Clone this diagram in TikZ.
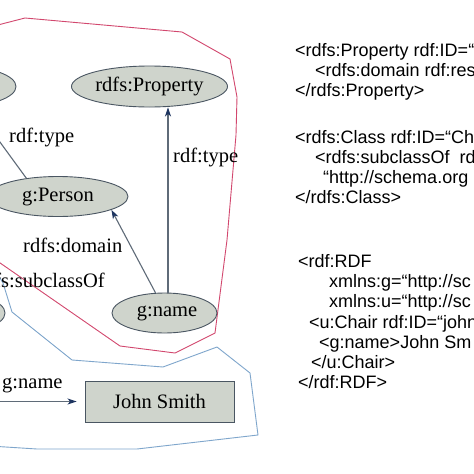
\documentclass[tikz,border=0pt]{standalone}
\usepackage{fontspec}
\setmainfont{Liberation Serif}
\newfontfamily\codefont{Liberation Sans}
\usetikzlibrary{shapes.geometric,arrows.meta}
\definecolor{nodefill}{HTML}{CFD4CC}
\definecolor{nodeline}{HTML}{4A5662}
\definecolor{edgeline}{HTML}{5F6B78}
\definecolor{tipcol}{HTML}{1E3560}
\definecolor{redpoly}{HTML}{D2476E}
\definecolor{bluepoly}{HTML}{7FA6CC}
\begin{document}
\begin{tikzpicture}[x=1pt,y=-1pt,
  ell/.style={ellipse, draw=nodeline, fill=nodefill, line width=0.9pt, inner sep=0pt,
    font=\fontsize{20.5}{24}\selectfont},
  boxnode/.style={rectangle, draw=nodeline, fill=nodefill, line width=0.9pt, inner sep=0pt,
    font=\fontsize{20.5}{24}\selectfont},
  edge/.style={draw=edgeline, line width=1.1pt, -{Stealth[length=9pt,width=6pt,inset=2.5pt,color=tipcol]}},
  lbl/.style={font=\fontsize{20.5}{24}\selectfont, inner sep=0pt, anchor=base west},
  code/.style={font=\codefont\fontsize{18}{20}\selectfont, inner sep=0pt, anchor=base west},
  region/.style={line width=0.9pt, line join=round}
]
\useasboundingbox (0,0) rectangle (474,474);
\fill[white] (0,0) rectangle (474,474);
\clip (0,0) rectangle (474,474);

% regions
\draw[region, draw=redpoly] (-10,27) -- (25,18) -- (182,32) -- (230,59) -- (237,97) -- (236,135)
  -- (227,240) -- (215,333) -- (175,353) -- (120,346) -- (-10,256);
\draw[region, draw=bluepoly] (-6,268) -- (3,283) -- (12,312) -- (72,360) -- (163,367) -- (217,347)
  -- (250,373) -- (258,435) -- (137,449) -- (37,449) -- (-10,446);

% nodes
\node[ell, minimum width=156pt, minimum height=41pt] (prop) at (149.5,86.5) {rdfs:Property};
\node[ell, minimum width=112pt, minimum height=40pt] (cls) at (-40,86.5) {};
\node[ell, minimum width=140pt, minimum height=40pt] (person) at (58,196.5) {g:Person};
\node[ell, minimum width=105pt, minimum height=40pt] (gname) at (164.5,313) {\hspace{5pt}g:name};
\node[ell, minimum width=104pt, minimum height=40pt] (chair) at (-47,313) {};
\node[boxnode, minimum width=149pt, minimum height=41pt] (john) at (159.5,401.5) {John Smith};
\coordinate (vx) at (168,0);
\coordinate (src) at (-40,401.5);

% edges
\draw[edge] (gname.north -| vx) -- (prop.south -| vx);
\draw[edge] (gname.114) -- (person.-14);
\draw[edge] (person.150) -- (cls.-55);
\draw[edge, shorten >=8pt] (src) -- (john);

% edge labels
\node[lbl] (l1) at (9,142) {rdf:type};
\node[lbl] (l2) at (173,162) {rdf:type};
\node[lbl] (l3) at (23,252) {rdfs:domain};
\node[lbl, anchor=base east] (l4) at (105,287) {rdfs:subclassOf};
\node[lbl] (l5) at (2,388) {g:name};

% code text
\node[code] (c1) at (295,56) {<rdfs:Property rdf:ID=“};
\node[code] (c2) at (315,76) {<rdfs:domain rdf:res};
\node[code] (c3) at (295,96) {</rdfs:Property>};
\node[code] (c4) at (295,143) {<rdfs:Class rdf:ID=“Ch};
\node[code] (c5) at (315,163) {<rdfs:subclassOf\hspace{0.55em}rd};
\node[code] (c6) at (323,183) {“http://schema.org};
\node[code] (c7) at (295,203) {</rdfs:Class>};

\node[code] (d1) at (298,267) {<rdf:RDF};
\node[code] (d2) at (329,287) {xmlns:g=“http://sc};
\node[code] (d3) at (329,307) {xmlns:u=“http://sc};
\node[code] (d4) at (309,328) {<u:Chair rdf:ID=“john};
\node[code] (d5) at (319,348) {<g:name>John Sm};
\node[code] (d6) at (311,368) {</u:Chair>};
\node[code] (d7) at (298,388) {</rdf:RDF>};
\end{tikzpicture}
\end{document}
